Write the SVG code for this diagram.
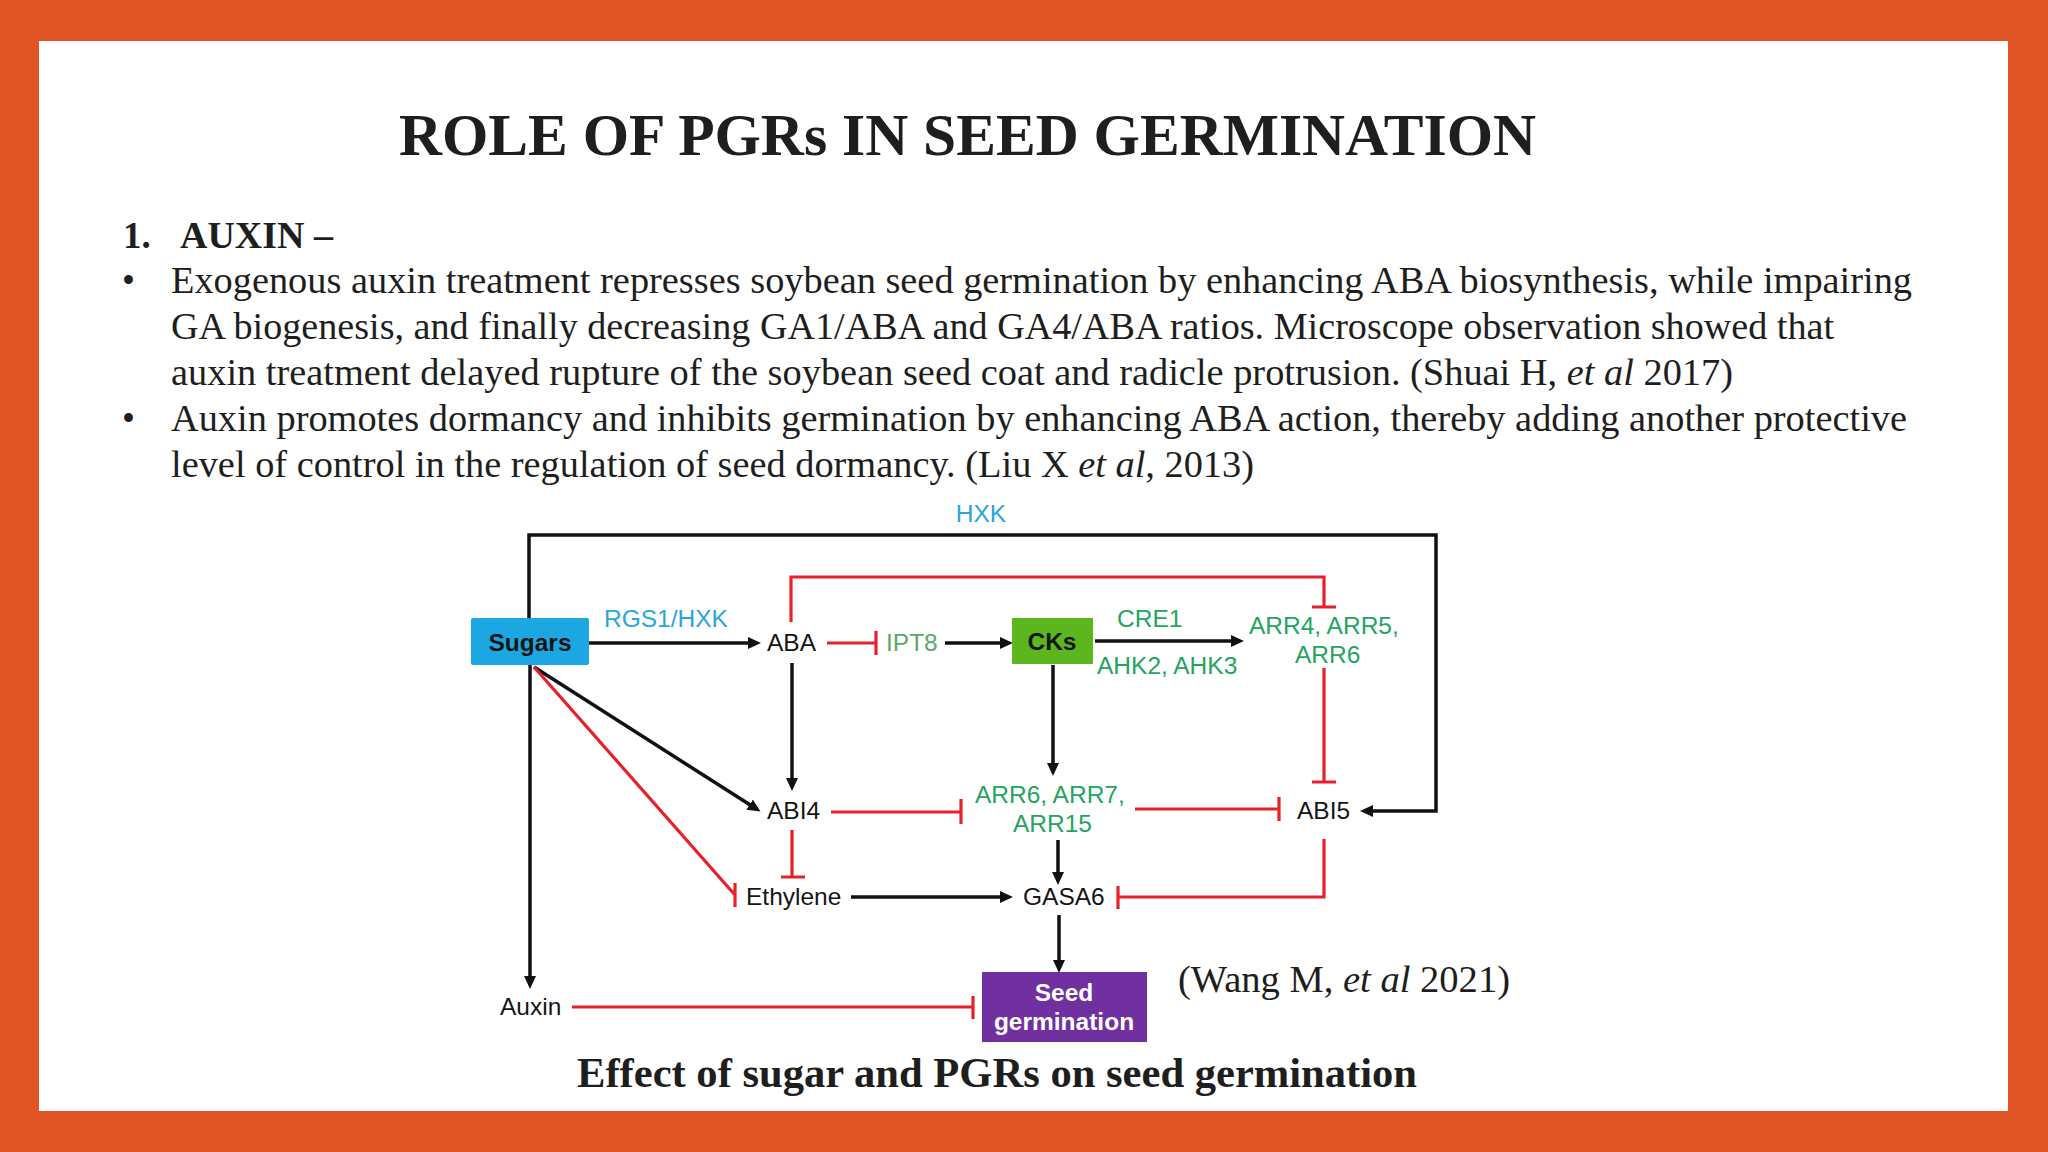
<svg xmlns="http://www.w3.org/2000/svg" width="2048" height="1152" viewBox="0 0 2048 1152">
<style>
.serif{font-family:"Liberation Serif","Times New Roman",serif;fill:#1e1e1e}
.b{font-weight:bold}
.sans{font-family:"Liberation Sans",Arial,sans-serif;font-size:24.5px}
.blk{fill:#151515}
.grn{fill:#24a460}
.lgrn{fill:#5aa865}
.blue{fill:#2aa6dc}
.wl{fill:#ffffff;font-weight:bold}
.k{stroke:#111;stroke-width:3.5;fill:none}
.r{stroke:#e8202a;stroke-width:3.2;fill:none}
</style>
<defs>
<marker id="ah" markerUnits="userSpaceOnUse" markerWidth="14" markerHeight="12" viewBox="0 0 14 12" refX="5" refY="6" orient="auto">
<path d="M0,0 L13,6 L0,12 z" fill="#111"/>
</marker>
</defs>
<rect x="0" y="0" width="2048" height="1152" fill="#e05526"/>
<rect x="39" y="41" width="1969" height="1070" fill="#ffffff"/>

<g id="page-text">
<text class="serif b" x="399" y="155" font-size="60" textLength="1137" lengthAdjust="spacingAndGlyphs">ROLE OF PGRs IN SEED GERMINATION</text>
<text class="serif b" x="123" y="248" font-size="37">1.</text>
<text class="serif b" x="180" y="248" font-size="37" textLength="153" lengthAdjust="spacingAndGlyphs">AUXIN –</text>
<text class="serif" x="122" y="293" font-size="37">•</text>
<text class="serif" x="171" y="293" font-size="37" textLength="1741" lengthAdjust="spacingAndGlyphs">Exogenous auxin treatment represses soybean seed germination by enhancing ABA biosynthesis, while impairing</text>
<text class="serif" x="171" y="339" font-size="37" textLength="1663" lengthAdjust="spacingAndGlyphs">GA biogenesis, and finally decreasing GA1/ABA and GA4/ABA ratios. Microscope observation showed that</text>
<text class="serif" x="171" y="385" font-size="37" textLength="1562" lengthAdjust="spacingAndGlyphs">auxin treatment delayed rupture of the soybean seed coat and radicle protrusion. (Shuai H, <tspan font-style="italic">et al</tspan> 2017)</text>
<text class="serif" x="122" y="431" font-size="37">•</text>
<text class="serif" x="171" y="431" font-size="37" textLength="1736" lengthAdjust="spacingAndGlyphs">Auxin promotes dormancy and inhibits germination by enhancing ABA action, thereby adding another protective</text>
<text class="serif" x="171" y="477" font-size="37" textLength="1083" lengthAdjust="spacingAndGlyphs">level of control in the regulation of seed dormancy. (Liu X <tspan font-style="italic">et al</tspan>, 2013)</text>
<text class="serif" x="1178" y="992" font-size="38" textLength="332" lengthAdjust="spacingAndGlyphs">(Wang M, <tspan font-style="italic">et al</tspan> 2021)</text>
<text class="serif b" x="577" y="1087" font-size="42" textLength="840" lengthAdjust="spacingAndGlyphs">Effect of sugar and PGRs on seed germination</text>
</g>

<g id="connectors">
<path class="k" d="M529,618 V535 H1436 V811 H1368" marker-end="url(#ah)"/>
<path class="k" d="M589,643 H753" marker-end="url(#ah)"/>
<path class="k" d="M945,643 H1005" marker-end="url(#ah)"/>
<path class="k" d="M1095,641 H1236" marker-end="url(#ah)"/>
<path class="k" d="M1053,665 V768" marker-end="url(#ah)"/>
<path class="k" d="M792,663 V783" marker-end="url(#ah)"/>
<path class="k" d="M534,667 L753.8,807.3" marker-end="url(#ah)"/>
<path class="k" d="M851,897 H1005" marker-end="url(#ah)"/>
<path class="k" d="M1058,840 V877" marker-end="url(#ah)"/>
<path class="k" d="M1059,915 V965" marker-end="url(#ah)"/>
<path class="k" d="M530,665 V981" marker-end="url(#ah)"/>

<path class="r" d="M827,643 H876 M876,631 V655"/>
<path class="r" d="M791,622 V577 H1324 V607 M1312,607 H1336"/>
<path class="r" d="M1324,668 V782 M1312,782 H1336"/>
<path class="r" d="M831,812 H961 M961,799 V824"/>
<path class="r" d="M1135,809 H1279 M1279,797 V821"/>
<path class="r" d="M792,830 V877 M781,877 H805"/>
<path class="r" d="M534,667 L735,895 M735,883 V907"/>
<path class="r" d="M1324,839 V897 H1118 M1118,886 V909"/>
<path class="r" d="M572,1007 H973 M973,996 V1019"/>
</g>

<g id="label-HXK"><text class="sans blue" x="981" y="522" font-size="22" text-anchor="middle">HXK</text></g>
<g id="label-RGS1"><text class="sans blue" x="604" y="627">RGS1/HXK</text></g>
<g id="node-sugars">
<rect x="471" y="618" width="118" height="47" rx="2" fill="#1ca7e2"/>
<text class="sans blk" x="530" y="651" font-size="27" font-weight="bold" text-anchor="middle">Sugars</text>
</g>
<g id="node-ABA"><text class="sans blk" x="767" y="651">ABA</text></g>
<g id="node-IPT8"><text class="sans lgrn" x="886" y="651">IPT8</text></g>
<g id="node-CKs">
<rect x="1012" y="618" width="81" height="46" fill="#5cb71e"/>
<text class="sans blk" x="1052" y="650" font-size="26.5" font-weight="bold" text-anchor="middle">CKs</text>
</g>
<g id="label-CRE1"><text class="sans grn" x="1117" y="627">CRE1</text></g>
<g id="label-AHK"><text class="sans grn" x="1097" y="674">AHK2, AHK3</text></g>
<g id="node-ARR456">
<text class="sans grn" x="1249" y="634">ARR4, ARR5,</text>
<text class="sans grn" x="1295" y="663">ARR6</text>
</g>
<g id="node-ABI4"><text class="sans blk" x="767" y="819">ABI4</text></g>
<g id="node-ARR6715">
<text class="sans grn" x="975" y="803">ARR6, ARR7,</text>
<text class="sans grn" x="1013" y="832">ARR15</text>
</g>
<g id="node-ABI5"><text class="sans blk" x="1297" y="819">ABI5</text></g>
<g id="node-ethylene"><text class="sans blk" x="746" y="905">Ethylene</text></g>
<g id="node-GASA6"><text class="sans blk" x="1023" y="905">GASA6</text></g>
<g id="node-auxin"><text class="sans blk" x="500" y="1015">Auxin</text></g>
<g id="node-seed">
<rect x="982" y="972" width="165" height="70" fill="#7030a0"/>
<text class="sans wl" x="1064" y="1001" text-anchor="middle">Seed</text>
<text class="sans wl" x="1064" y="1030" text-anchor="middle">germination</text>
</g>
</svg>
